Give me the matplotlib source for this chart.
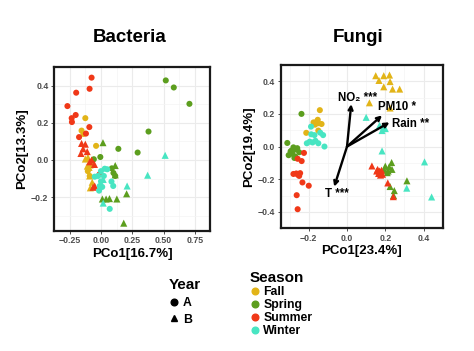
import numpy as np
import matplotlib
matplotlib.use("Agg")
import matplotlib.pyplot as plt
from matplotlib.lines import Line2D

# Season colours and year markers
seasons = ["Fall", "Spring", "Summer", "Winter"]
season_colors = {"Fall": "#E2B418", "Spring": "#5C9E1E",
                 "Summer": "#F03818", "Winter": "#48E5C2"}
years = ["A", "B"]
year_markers = {"A": "o", "B": "^"}

# Bacteria PCoA scores (x, y) per season / year
bac_fall_A = [(-0.125, 0.225), (-0.155, 0.158), (-0.14, 0.14), (-0.039, 0.076),
              (-0.09, -0.086), (-0.07, -0.03), (-0.105, -0.06)]
bac_fall_B = [(-0.104, 0.014), (-0.109, -0.033), (-0.095, -0.04), (-0.091, -0.086),
              (-0.07, -0.12), (-0.085, -0.15), (-0.125, 0.005)]
bac_spring_A = [(0.518, 0.428), (0.582, 0.39), (0.707, 0.302), (0.38, 0.153),
                (0.139, 0.06), (0.293, 0.04), (-0.005, 0.016), (-0.057, 0.004),
                (0.087, -0.045), (0.114, -0.086), (0.10, -0.07)]
bac_spring_B = [(0.016, 0.093), (0.114, -0.03), (0.114, -0.08), (0.205, -0.182),
                (0.011, -0.21), (0.041, -0.21), (0.068, -0.208), (0.127, -0.21),
                (0.182, -0.34)]
bac_summer_A = [(-0.075, 0.443), (-0.091, 0.383), (-0.198, 0.362), (-0.268, 0.29),
                (-0.202, 0.242), (-0.234, 0.225), (-0.232, 0.204), (-0.093, 0.177),
                (-0.12, 0.142), (-0.175, 0.123), (-0.011, -0.077)]
bac_summer_B = [(-0.155, 0.089), (-0.125, 0.085), (-0.143, 0.06), (-0.11, 0.045),
                (-0.16, 0.035), (-0.075, 0.0), (-0.052, -0.024), (-0.09, -0.01),
                (-0.063, -0.147), (-0.05, -0.14)]
bac_winter_A = [(0.03, -0.047), (0.0, -0.06), (-0.023, -0.086), (0.023, -0.086),
                (-0.05, -0.09), (0.0, -0.115), (-0.01, -0.14), (0.01, -0.145),
                (-0.015, -0.165), (0.084, -0.116), (0.098, -0.14), (0.07, -0.263),
                (0.05, -0.05)]
bac_winter_B = [(0.513, 0.025), (0.373, -0.082), (0.209, -0.14), (0.018, -0.232),
                (0.018, -0.105)]

# Fungi PCoA scores (x, y) per season / year
fun_fall_A = [(-0.142, 0.223), (-0.153, 0.164), (-0.175, 0.148), (-0.15, 0.143),
              (-0.167, 0.134), (-0.133, 0.138), (-0.213, 0.084), (-0.15, 0.098),
              (-0.16, 0.15)]
fun_fall_B = [(0.15, 0.434), (0.192, 0.434), (0.222, 0.438), (0.167, 0.405),
              (0.225, 0.398), (0.192, 0.366), (0.238, 0.352), (0.275, 0.352),
              (0.117, 0.268), (0.225, 0.236)]
fun_spring_A = [(-0.238, 0.2), (-0.312, 0.022), (-0.27, -0.018), (-0.29, -0.025),
                (-0.26, -0.01), (-0.285, -0.045), (-0.305, -0.053), (-0.27, -0.062),
                (-0.25, -0.035), (-0.28, -0.005), (-0.295, -0.03), (-0.275, -0.07)]
fun_spring_B = [(0.233, -0.098), (0.2, -0.12), (0.22, -0.125), (0.235, -0.14),
                (0.215, -0.15), (0.195, -0.145), (0.21, -0.16), (0.313, -0.21),
                (0.225, -0.245), (0.247, -0.27), (0.243, -0.3)]
fun_summer_A = [(-0.225, -0.039), (-0.258, -0.075), (-0.237, -0.089), (-0.28, -0.168),
                (-0.257, -0.172), (-0.245, -0.163), (-0.25, -0.18), (-0.265, -0.165),
                (-0.233, -0.22), (-0.2, -0.24), (-0.263, -0.298), (-0.258, -0.384)]
fun_summer_B = [(0.13, -0.119), (0.16, -0.14), (0.17, -0.15), (0.175, -0.16),
                (0.165, -0.165), (0.18, -0.145), (0.175, -0.175), (0.185, -0.17),
                (0.213, -0.223), (0.242, -0.307), (0.155, -0.15)]
fun_winter_A = [(-0.188, 0.122), (-0.187, 0.075), (-0.17, 0.07), (-0.14, 0.085),
                (-0.125, 0.07), (-0.195, 0.03), (-0.18, 0.025), (-0.165, 0.035),
                (-0.15, 0.02), (-0.118, 0.0), (-0.21, 0.02)]
fun_winter_B = [(0.1, 0.179), (0.17, 0.13), (0.19, 0.12), (0.183, 0.098),
                (0.2, 0.11), (0.183, -0.027), (0.405, -0.094), (0.312, -0.255),
                (0.442, -0.309)]

# Environmental fit vectors on the fungi plot
env_names = ["NO\u2082 ***", "PM10 *", "Rain **", "T ***"]
env_tips = [(0.022, 0.26), (0.183, 0.191), (0.222, 0.148), (-0.067, -0.246)]
env_label_pos = [(-0.048, 0.295), (0.16, 0.241), (0.235, 0.139), (-0.113, -0.29)]

bacteria = {("Fall", "A"): bac_fall_A, ("Fall", "B"): bac_fall_B,
            ("Spring", "A"): bac_spring_A, ("Spring", "B"): bac_spring_B,
            ("Summer", "A"): bac_summer_A, ("Summer", "B"): bac_summer_B,
            ("Winter", "A"): bac_winter_A, ("Winter", "B"): bac_winter_B}
fungi = {("Fall", "A"): fun_fall_A, ("Fall", "B"): fun_fall_B,
         ("Spring", "A"): fun_spring_A, ("Spring", "B"): fun_spring_B,
         ("Summer", "A"): fun_summer_A, ("Summer", "B"): fun_summer_B,
         ("Winter", "A"): fun_winter_A, ("Winter", "B"): fun_winter_B}

plt.rcParams['font.family'] = ['Liberation Sans', 'DejaVu Sans']
plt.rcParams['font.weight'] = 'bold'


def style_axes(ax, xmajor, ymajor, xlim, ylim):
    ax.set_xlim(*xlim)
    ax.set_ylim(*ylim)
    ax.set_xticks(xmajor)
    ax.set_yticks(ymajor)
    dx = xmajor[1] - xmajor[0]
    dy = ymajor[1] - ymajor[0]
    ax.set_xticks(np.arange(xmajor[0] - dx / 2, xmajor[-1] + dx, dx), minor=True)
    ax.set_yticks(np.arange(ymajor[0] - dy / 2, ymajor[-1] + dy, dy), minor=True)
    ax.grid(True, which='major', color='#EBEBEB', lw=0.8)
    ax.grid(True, which='minor', color='#F4F4F4', lw=0.5)
    ax.set_axisbelow(True)
    ax.tick_params(which='major', length=2.5, width=0.6, color='#333333',
                   labelsize=6.3, labelcolor='#4D4D4D', pad=1.5)
    ax.tick_params(which='minor', length=0)
    for lab in ax.get_xticklabels() + ax.get_yticklabels():
        lab.set_fontweight('bold')
    for sp in ax.spines.values():
        sp.set_linewidth(1.6)
        sp.set_color('#1A1A1A')


def draw_points(ax, groups):
    for season in seasons:
        for yr in years:
            pts = np.array(groups[(season, yr)])
            ax.scatter(pts[:, 0], pts[:, 1], s=19 if yr == "A" else 26,
                       marker=year_markers[yr], color=season_colors[season],
                       edgecolors='none', zorder=3)


fig = plt.figure(figsize=(4.74, 3.51), dpi=100)

# Bacteria panel
ax1 = fig.add_axes([0.114, 0.343, 0.330, 0.466])
draw_points(ax1, bacteria)
style_axes(ax1, [-0.25, 0.0, 0.25, 0.5, 0.75], [-0.2, 0.0, 0.2, 0.4],
           (-0.313, 0.753), (-0.38, 0.482))
ax1.set_xticklabels(["\u22120.25", "0.00", "0.25", "0.50", "0.75"])
ax1.set_yticklabels(["\u22120.2", "0.0", "0.2", "0.4"])
ax1.set_xlabel("PCo1[16.7%]", fontsize=9.5, fontweight='bold', labelpad=2)
ax1.set_ylabel("PCo2[13.3%]", fontsize=9.5, fontweight='bold', labelpad=2)

# Fungi panel
ax2 = fig.add_axes([0.592, 0.350, 0.342, 0.465])
draw_points(ax2, fungi)
style_axes(ax2, [-0.2, 0.0, 0.2, 0.4], [-0.4, -0.2, 0.0, 0.2, 0.4],
           (-0.347, 0.463), (-0.41, 0.464))
ax2.set_xticklabels(["\u22120.2", "0.0", "0.2", "0.4"])
ax2.set_yticklabels(["\u22120.4", "\u22120.2", "0.0", "0.2", "0.4"])
ax2.set_xlabel("PCo1[23.4%]", fontsize=9.5, fontweight='bold', labelpad=2)
ax2.set_ylabel("PCo2[19.4%]", fontsize=9.5, fontweight='bold', labelpad=2)

for name, tip, lpos in zip(env_names, env_tips, env_label_pos):
    ax2.annotate("", xy=tip, xytext=(0, 0),
                 arrowprops=dict(arrowstyle='->', color='black', lw=1.7,
                                 mutation_scale=7, shrinkA=0, shrinkB=0),
                 zorder=4)
    ax2.text(lpos[0], lpos[1], name, fontsize=8.3, fontweight='bold',
             ha='left', va='center', zorder=5)

fig.text(0.274, 0.892, "Bacteria", fontsize=13.5, fontweight='bold',
         ha='center', va='center')
fig.text(0.755, 0.892, "Fungi", fontsize=13.5, fontweight='bold',
         ha='center', va='center')

# Legends
year_handles = [Line2D([], [], ls='none', marker=year_markers[y], color='black',
                       markersize=4.8) for y in years]
leg1 = fig.legend(year_handles, years, title="Year", loc='upper left',
                  bbox_to_anchor=(0.357, 0.208), frameon=False, borderpad=0,
                  borderaxespad=0, handlelength=0.8, handletextpad=0.3,
                  labelspacing=0.4, prop={'size': 8.8, 'weight': 'bold'},
                  alignment='left')
leg1.get_title().set_fontsize(11)
leg1.get_title().set_fontweight('bold')

season_handles = [Line2D([], [], ls='none', marker='o', color=season_colors[s],
                         markersize=4.8) for s in seasons]
leg2 = fig.legend(season_handles, seasons, title="Season", loc='upper left',
                  bbox_to_anchor=(0.527, 0.228), frameon=False, borderpad=0,
                  borderaxespad=0, handlelength=0.8, handletextpad=0.3,
                  labelspacing=0.08, prop={'size': 8.8, 'weight': 'bold'},
                  alignment='left')
leg2.get_title().set_fontsize(11)
leg2.get_title().set_fontweight('bold')

fig.savefig("out.png", dpi=100)
